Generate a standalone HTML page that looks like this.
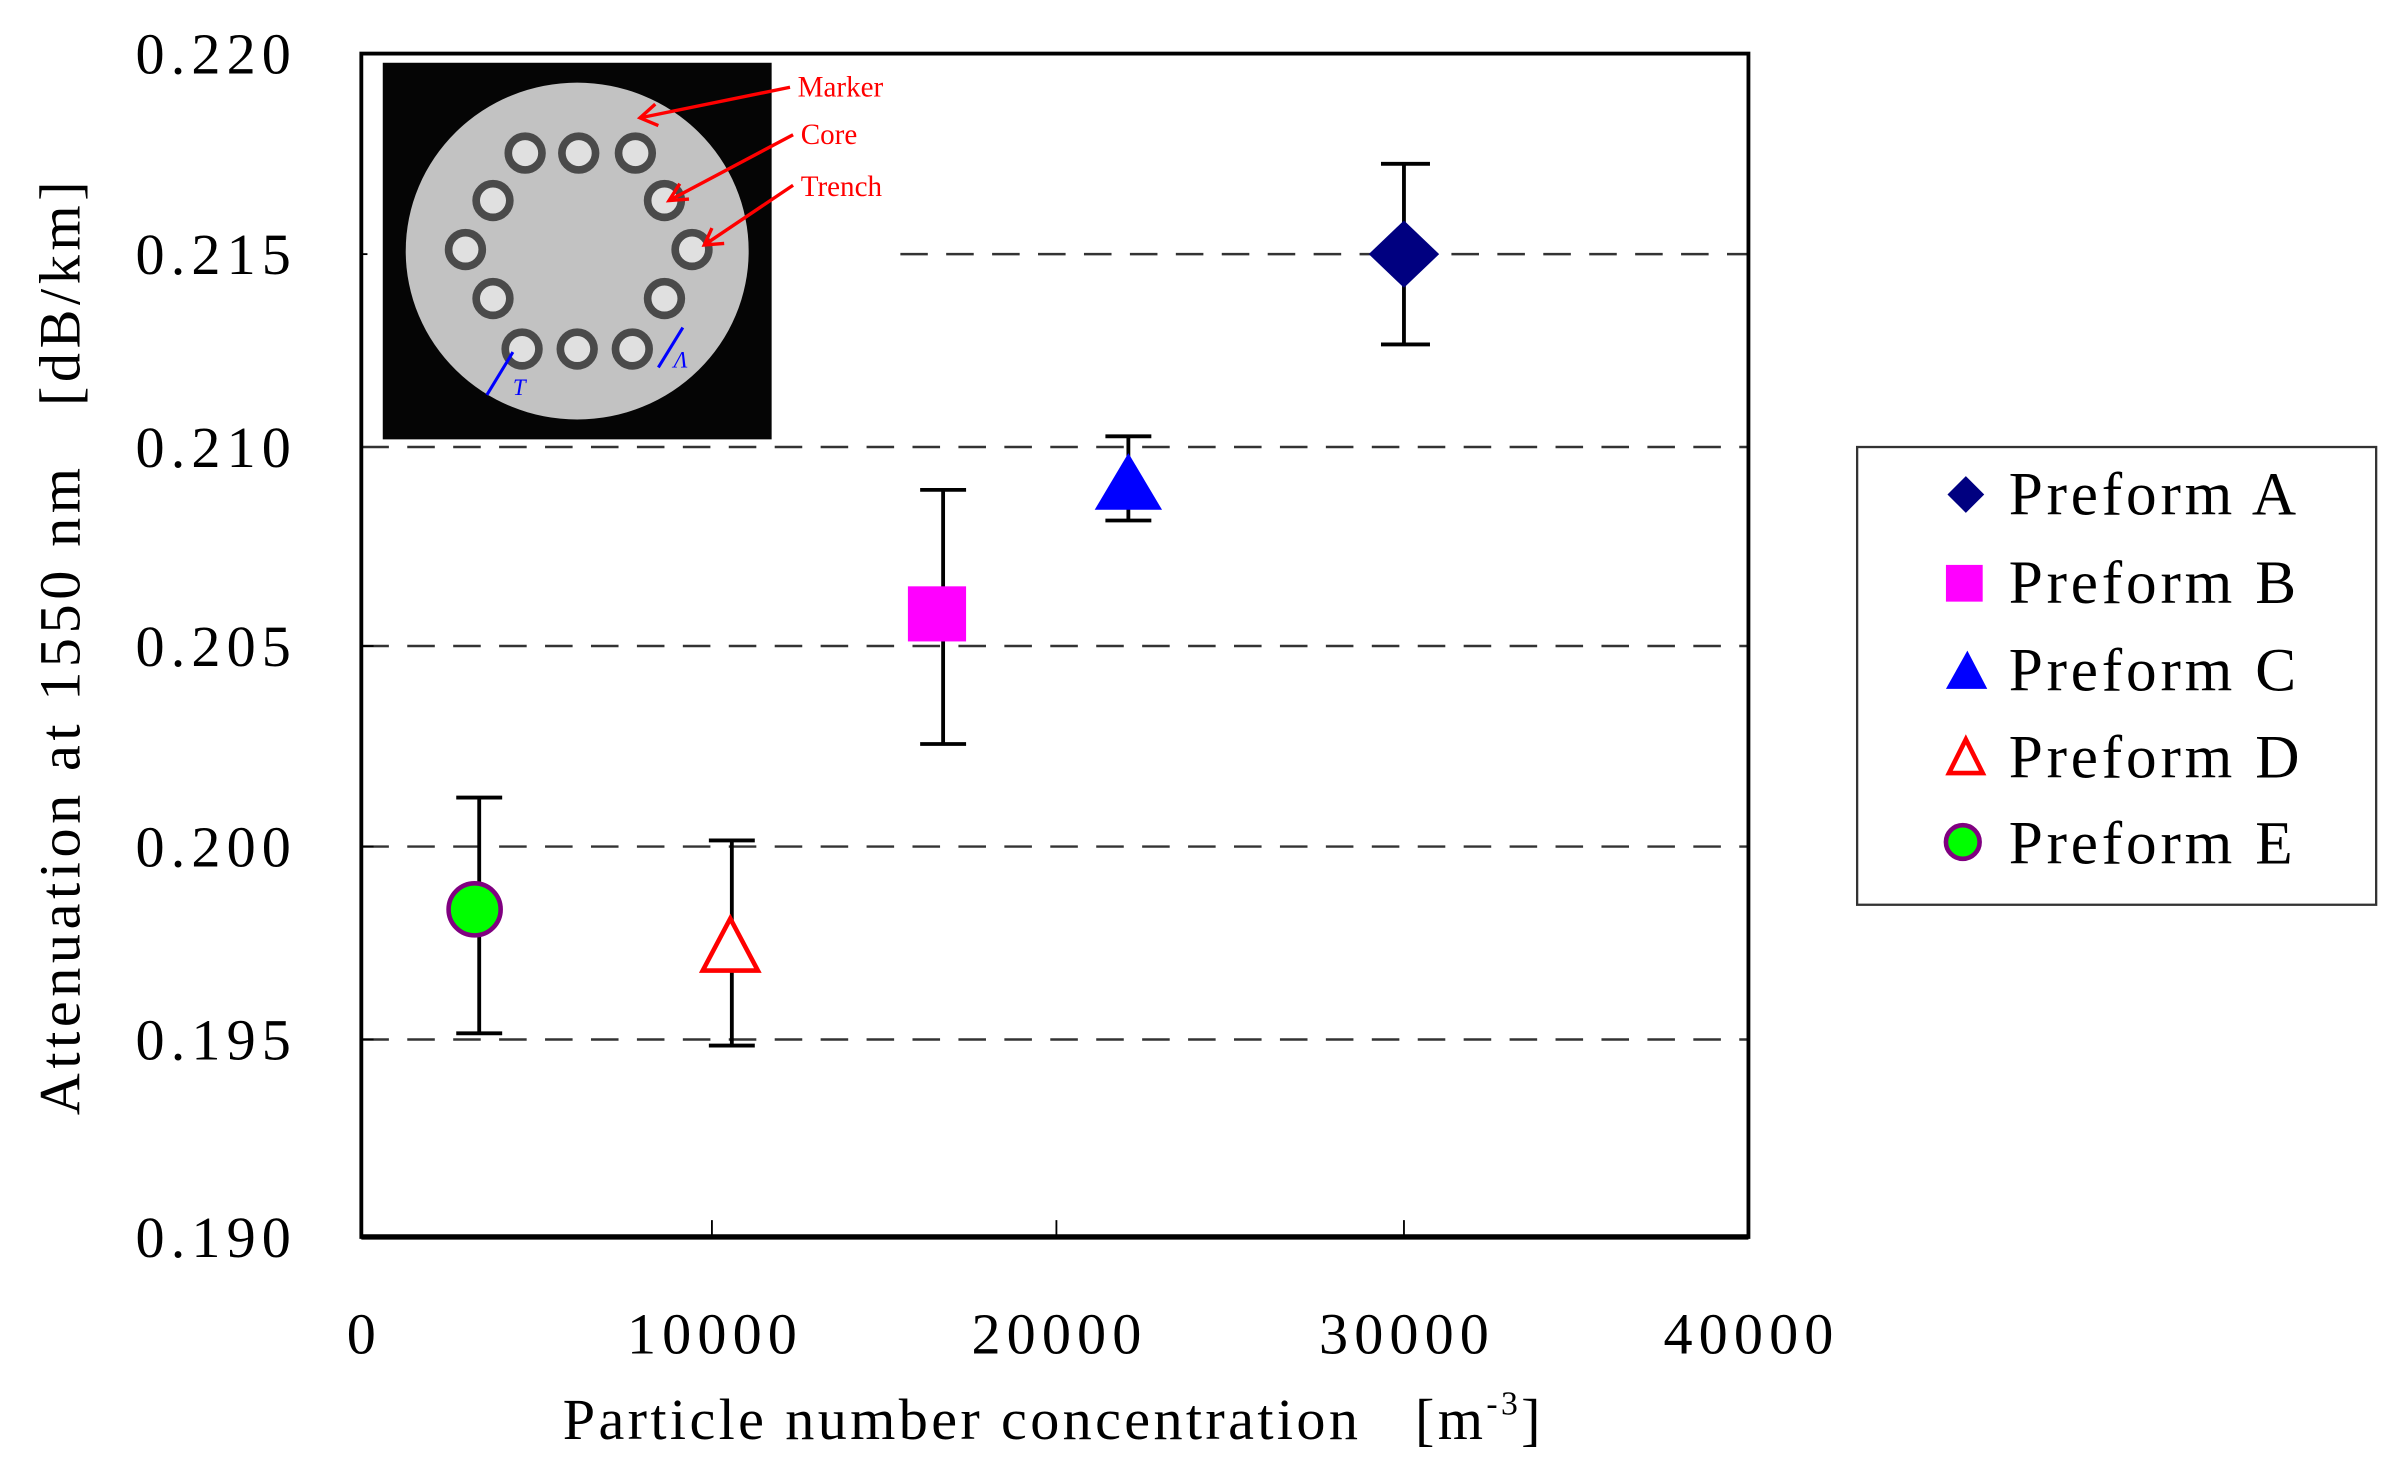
<!DOCTYPE html>
<html><head><meta charset="utf-8"><style>html,body{margin:0;padding:0;background:#fff}svg{display:block}</style></head>
<body>
<svg width="2393" height="1462" viewBox="0 0 1563 955" preserveAspectRatio="none" xmlns="http://www.w3.org/2000/svg" font-family="Liberation Serif, serif">
<rect width="1563" height="955" fill="#fff"/>
<g stroke="#333" stroke-width="1.6" stroke-dasharray="18 12">
<line x1="588" y1="166" x2="1142" y2="166"/>
<line x1="236" y1="292" x2="1142" y2="292"/>
<line x1="236" y1="422" x2="1142" y2="422"/>
<line x1="236" y1="553" x2="1142" y2="553"/>
<line x1="236" y1="679" x2="1142" y2="679"/>
</g>
<rect x="236" y="35" width="906" height="773" fill="none" stroke="#000" stroke-width="2.5"/>
<line x1="236" y1="808" x2="1142" y2="808" stroke="#000" stroke-width="3.5"/>
<g stroke="#000" stroke-width="1.2">
<line x1="465" y1="808" x2="465" y2="797"/><line x1="690" y1="808" x2="690" y2="797"/><line x1="917" y1="808" x2="917" y2="797"/>
<line x1="236" y1="166" x2="244" y2="166"/><line x1="236" y1="422" x2="244" y2="422"/><line x1="236" y1="553" x2="244" y2="553"/><line x1="236" y1="679" x2="244" y2="679"/>
</g>
<rect x="240" y="37" width="348" height="251" fill="#fff"/>
<rect x="250" y="41" width="254" height="246" fill="#050505"/>
<ellipse cx="377" cy="164" rx="112" ry="110" fill="#c2c2c2"/>
<g fill="#e0e0e0" stroke="#4a4a4a" stroke-width="5">
<circle cx="343" cy="100" r="11"/><circle cx="378" cy="100" r="11"/><circle cx="415" cy="100" r="11"/>
<circle cx="322" cy="131" r="11"/><circle cx="434" cy="131" r="11"/>
<circle cx="304" cy="163" r="11"/><circle cx="452" cy="163" r="11"/>
<circle cx="322" cy="195" r="11"/><circle cx="434" cy="195" r="11"/>
<circle cx="341" cy="228" r="11"/><circle cx="377" cy="228" r="11"/><circle cx="413" cy="228" r="11"/>
</g>
<g stroke="#f00" stroke-width="2.2" fill="none">
<line x1="516" y1="57" x2="418" y2="77"/><polyline points="428,68 418,77 430,82"/>
<line x1="518" y1="88" x2="437" y2="131"/><polyline points="444,120 437,131 450,130"/>
<line x1="518" y1="121" x2="460" y2="160"/><polyline points="465,149 460,160 473,159"/>
</g>
<g fill="#f00" font-size="19"><text x="521" y="63">Marker</text><text x="523" y="94">Core</text><text x="523" y="128">Trench</text></g>
<g stroke="#00f" stroke-width="2"><line x1="318" y1="258" x2="335" y2="230"/><line x1="430" y1="240" x2="446" y2="214"/></g>
<g fill="#00f" font-size="15" font-style="italic"><text x="335" y="258">T</text><text x="440" y="240">Λ</text></g>
<g stroke="#000" stroke-width="2.5">
<line x1="917" y1="107" x2="917" y2="225"/><line x1="902" y1="107" x2="934" y2="107"/><line x1="902" y1="225" x2="934" y2="225"/>
<line x1="616" y1="320" x2="616" y2="486"/><line x1="601" y1="320" x2="631" y2="320"/><line x1="601" y1="486" x2="631" y2="486"/>
<line x1="737" y1="285" x2="737" y2="340"/><line x1="722" y1="285" x2="752" y2="285"/><line x1="722" y1="340" x2="752" y2="340"/>
<line x1="478" y1="549" x2="478" y2="683"/><line x1="463" y1="549" x2="493" y2="549"/><line x1="463" y1="683" x2="493" y2="683"/>
<line x1="313" y1="521" x2="313" y2="675"/><line x1="298" y1="521" x2="328" y2="521"/><line x1="298" y1="675" x2="328" y2="675"/>
</g>
<polygon points="917,144 940,166 917,188 894,166" fill="#000080"/>
<rect x="593" y="383" width="38" height="36" fill="#f0f"/>
<polygon points="737,296 759,333 715,333" fill="#00f"/>
<polygon points="477,600 495,634 459,634" fill="#fff" stroke="#f00" stroke-width="3"/>
<circle cx="310" cy="594" r="17" fill="#0f0" stroke="#800080" stroke-width="3"/>
<g font-size="38" text-anchor="end" letter-spacing="4">
<text x="194" y="48">0.220</text><text x="194" y="179">0.215</text><text x="194" y="305">0.210</text>
<text x="194" y="435">0.205</text><text x="194" y="566">0.200</text><text x="194" y="692">0.195</text><text x="194" y="821">0.190</text>
</g>
<g font-size="38" text-anchor="middle" letter-spacing="4">
<text x="238" y="884">0</text><text x="467" y="884">10000</text><text x="692" y="884">20000</text><text x="919" y="884">30000</text><text x="1144" y="884">40000</text>
</g>
<text x="688" y="940" font-size="38" text-anchor="middle" letter-spacing="2.2">Particle number concentration &#160;&#160;[m<tspan font-size="22" dy="-16">-3</tspan><tspan dy="16">]</tspan></text>
<text transform="translate(52,422) rotate(-90)" font-size="38" text-anchor="middle" letter-spacing="3">Attenuation at 1550 nm &#160;&#160;[dB/km]</text>
<rect x="1213" y="292" width="339" height="299" fill="#fff" stroke="#333" stroke-width="1.5"/>
<polygon points="1284,311 1296,323 1284,335 1272,323" fill="#000080"/>
<rect x="1271" y="369" width="24" height="24" fill="#f0f"/>
<polygon points="1285,425 1298,450 1271,450" fill="#00f"/>
<polygon points="1284,483 1295,505 1273,505" fill="#fff" stroke="#f00" stroke-width="3"/>
<circle cx="1282" cy="550" r="11" fill="#0f0" stroke="#800080" stroke-width="3"/>
<g font-size="40" letter-spacing="2.5">
<text x="1312" y="336">Preform A</text><text x="1312" y="394">Preform B</text><text x="1312" y="451">Preform C</text><text x="1312" y="508">Preform D</text><text x="1312" y="564">Preform E</text>
</g>
</svg>
</body></html>
